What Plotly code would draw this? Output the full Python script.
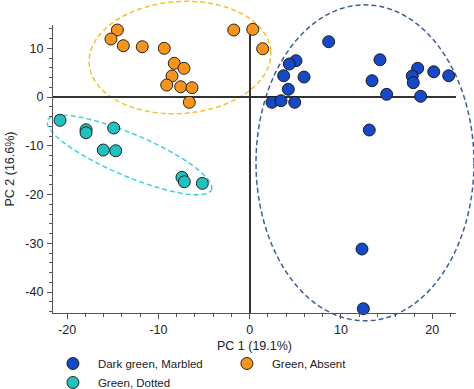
import numpy as np
import plotly.graph_objects as go

# ---- data ----
marbled_x = [8.65, 5.07, 4.34, 3.72, 5.95, 4.23, 2.44, 3.43, 4.93, 14.27, 13.4, 15.0,
             18.4, 17.81, 17.92, 18.73, 20.16, 21.8, 13.1, 12.3, 12.45]
marbled_y = [11.37, 7.47, 6.79, 4.39, 4.12, 1.6, -1.07, -0.74, -1.07, 7.67, 3.37, 0.57,
             5.91, 4.33, 2.96, 0.16, 5.21, 4.39, -6.75, -31.17, -43.42]
absent_x = [-14.5, -15.2, -13.85, -11.77, -9.36, -8.26, -7.2, -8.51, -9.09, -7.56, -6.32,
            -6.62, -1.75, 0.33, 1.42]
absent_y = [13.77, 11.92, 10.55, 10.34, 10.01, 6.94, 5.91, 4.33, 2.48, 2.13, 1.93,
            -1.07, 13.77, 13.91, 9.93]
dotted_x = [-20.78, -17.93, -17.93, -14.9, -16.04, -14.68, -7.42, -7.16, -5.19]
dotted_y = [-4.76, -6.69, -7.31, -6.34, -10.86, -11.0, -16.46, -17.36, -17.69]

series_names = ["Dark green, Marbled", "Green, Absent", "Green, Dotted"]
x_ticks = [-20, -10, 0, 10, 20]
x_tick_labels = ["-20", "-10", "0", "10", "20"]
y_ticks = [10, 0, -10, -20, -30, -40]
y_tick_labels = ["10", "0", "-10", "-20", "-30", "-40"]

# ---- layout constants ----
W, H = 474, 389
ML, MR, MT, MB = 53, 18, 25, 76
X_RANGE = [-21.55, 22.6]
Y_RANGE = [-44.3, 14.8]
PLOT_W = W - ML - MR
PLOT_H = H - MT - MB

colors = ["#1749c4", "#f7941d", "#22c1bf"]
ell_colors = ["#3d5f94", "#f2c12e", "#3fd0e0"]

# confidence ellipses: centre (data units), semi-axes (screen px), angle (deg)
ellipses = [
    dict(cx=12.63, cy=-13.48, a=109, b=158, ang=0),
    dict(cx=-7.64, cy=8.13, a=91, b=56, ang=4),
    dict(cx=-13.17, cy=-11.88, a=89, b=21, ang=-23),
]

ppx = PLOT_W / (X_RANGE[1] - X_RANGE[0])
ppy = PLOT_H / (Y_RANGE[1] - Y_RANGE[0])


def ellipse_path(e):
    t = np.linspace(0, 2 * np.pi, 120)
    th = np.deg2rad(e["ang"])
    dx = e["a"] * np.cos(t) * np.cos(th) - e["b"] * np.sin(t) * np.sin(th)
    dy = e["a"] * np.cos(t) * np.sin(th) + e["b"] * np.sin(t) * np.cos(th)
    xs = e["cx"] + dx / ppx
    ys = e["cy"] + dy / ppy
    px = (xs - X_RANGE[0]) / (X_RANGE[1] - X_RANGE[0])
    py = (ys - Y_RANGE[0]) / (Y_RANGE[1] - Y_RANGE[0])
    pts = [f"{a:.5f},{b:.5f}" for a, b in zip(px, py)]
    return "M" + " L".join(pts) + " Z"


fig = go.Figure()
for name, xs, ys, c in zip(series_names,
                           [marbled_x, absent_x, dotted_x],
                           [marbled_y, absent_y, dotted_y], colors):
    fig.add_trace(go.Scatter(
        x=xs, y=ys, mode="markers", name=name,
        marker=dict(size=12, color=c, line=dict(color="#111", width=0.9)),
        cliponaxis=False,
    ))

shapes = []
for e, c in zip(ellipses, ell_colors):
    shapes.append(dict(type="path", xref="paper", yref="paper",
                       path=ellipse_path(e),
                       line=dict(color=c, width=1.5, dash="5px,3px"),
                       layer="below"))

font = dict(family="Liberation Sans, Arial, sans-serif", size=12.5, color="#222")
legend_font = dict(family="Liberation Sans, Arial, sans-serif", size=11.5, color="#222")

axis_common = dict(
    showgrid=False, showline=True, linecolor="#555", linewidth=1.2,
    ticks="outside", ticklen=5, tickcolor="#555", tickwidth=1.2,
    zeroline=True, zerolinecolor="#333", zerolinewidth=1.8,
    minor=dict(dtick=2, ticks="outside", ticklen=3, tickcolor="#555", tickwidth=1),
    tickfont=font,
)

fig.update_layout(
    width=W, height=H,
    margin=dict(l=ML, r=MR, t=MT, b=MB, autoexpand=False),
    paper_bgcolor="white", plot_bgcolor="white",
    font=font,
    shapes=shapes,
    xaxis=dict(range=X_RANGE, tickvals=x_ticks, ticktext=x_tick_labels,
               automargin=False,
               title=dict(text="PC 1 (19.1%)", font=font, standoff=5),
               **axis_common),
    yaxis=dict(range=Y_RANGE, tickvals=y_ticks, ticktext=y_tick_labels,
               automargin=False, ticklabelstandoff=1,
               title=dict(text="PC 2 (16.6%)", font=font, standoff=7),
               **axis_common),
    legend=dict(orientation="h", x=-0.0126, xanchor="left", y=-0.125, yanchor="top",
                entrywidth=119, entrywidthmode="pixels", itemwidth=40,
                font=legend_font, tracegroupgap=0, bgcolor="rgba(0,0,0,0)"),
    showlegend=True,
)

fig.write_html("out.html",
               config={"displayModeBar": False},
               post_script="document.body.style.margin='0';"
                           "document.body.style.padding='0';"
                           "document.body.style.overflow='hidden';")
